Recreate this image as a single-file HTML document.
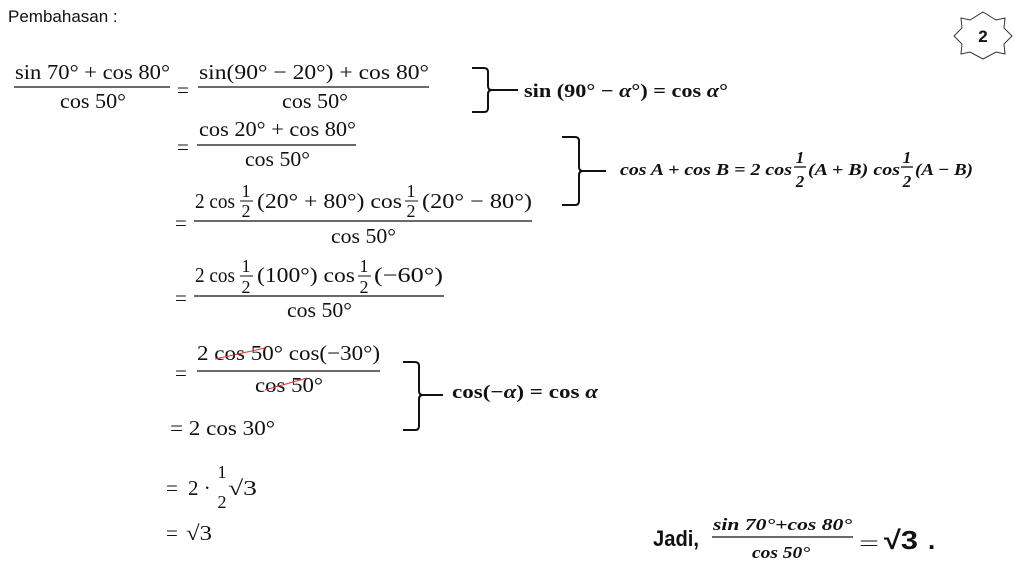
<!DOCTYPE html>
<html><head><meta charset="utf-8"><style>
html,body{margin:0;padding:0;background:#fff;}
svg{display:block;}
.m{font-family:"Liberation Serif",serif;font-size:21px;fill:#111;}
.b{font-family:"Liberation Serif",serif;font-size:19px;font-weight:bold;fill:#111;}
.bi{font-family:"Liberation Serif",serif;font-size:17px;font-weight:bold;font-style:italic;fill:#111;}
.s{font-family:"Liberation Sans",sans-serif;fill:#111;}
.f{font-family:"Liberation Serif",serif;font-size:18px;fill:#111;}
</style></head><body>
<svg width="1023" height="572" viewBox="0 0 1023 572" xmlns="http://www.w3.org/2000/svg">
<text x="8" y="22" class="s" font-size="17">Pembahasan :</text>
<polygon points="983,12 996,20 1005,18 1004,28 1012,36 1004,44 1005,54 996,52 983,59 970,52 961,54 962,44 954,36 962,28 961,18 970,20" fill="none" stroke="#333" stroke-width="1"/>
<text x="983" y="42" class="s" font-size="17" font-weight="bold" text-anchor="middle">2</text>
<g stroke="#111" stroke-width="1.3">
<line x1="14" y1="87" x2="170" y2="87"/><line x1="198" y1="87" x2="429" y2="87"/>
<line x1="197" y1="145" x2="356" y2="145"/>
<line x1="194" y1="221" x2="532" y2="221"/>
<line x1="194" y1="296" x2="444" y2="296"/>
<line x1="197" y1="371" x2="380" y2="371"/>
</g>
<text x="15" y="79" class="m" textLength="155" lengthAdjust="spacingAndGlyphs">sin 70° + cos 80°</text>
<text x="60" y="108" class="m" textLength="66" lengthAdjust="spacingAndGlyphs">cos 50°</text>
<text x="177" y="97" class="m">=</text>
<text x="199" y="79" class="m" textLength="230" lengthAdjust="spacingAndGlyphs">sin(90° − 20°) + cos 80°</text>
<text x="282" y="108" class="m" textLength="66" lengthAdjust="spacingAndGlyphs">cos 50°</text>
<text x="177" y="154" class="m">=</text>
<text x="199" y="136" class="m" textLength="157" lengthAdjust="spacingAndGlyphs">cos 20° + cos 80°</text>
<text x="245" y="166" class="m" textLength="65" lengthAdjust="spacingAndGlyphs">cos 50°</text>
<text x="175" y="230" class="m">=</text>
<text x="195" y="208" class="m" font-size="20" textLength="40" lengthAdjust="spacingAndGlyphs">2 cos</text>
<text x="246" y="197" class="f" text-anchor="middle">1</text><line x1="240" y1="201" x2="253" y2="201" stroke="#111"/><text x="246" y="217" class="f" text-anchor="middle">2</text>
<text x="257" y="208" class="m" textLength="145" lengthAdjust="spacingAndGlyphs">(20° + 80°) cos</text>
<text x="411" y="197" class="f" text-anchor="middle">1</text><line x1="405" y1="201" x2="418" y2="201" stroke="#111"/><text x="411" y="217" class="f" text-anchor="middle">2</text>
<text x="422" y="208" class="m" textLength="110" lengthAdjust="spacingAndGlyphs">(20° − 80°)</text>
<text x="331" y="243" class="m" textLength="65" lengthAdjust="spacingAndGlyphs">cos 50°</text>
<text x="175" y="305" class="m">=</text>
<text x="195" y="282" class="m" font-size="20" textLength="40" lengthAdjust="spacingAndGlyphs">2 cos</text>
<text x="246" y="272" class="f" text-anchor="middle">1</text><line x1="240" y1="276" x2="253" y2="276" stroke="#111"/><text x="246" y="293" class="f" text-anchor="middle">2</text>
<text x="257" y="282" class="m" textLength="98" lengthAdjust="spacingAndGlyphs">(100°) cos</text>
<text x="364" y="272" class="f" text-anchor="middle">1</text><line x1="358" y1="276" x2="371" y2="276" stroke="#111"/><text x="364" y="293" class="f" text-anchor="middle">2</text>
<text x="374" y="282" class="m" textLength="69" lengthAdjust="spacingAndGlyphs">(−60°)</text>
<text x="287" y="317" class="m" textLength="65" lengthAdjust="spacingAndGlyphs">cos 50°</text>
<text x="175" y="380" class="m">=</text>
<text x="197" y="360" class="m" textLength="183" lengthAdjust="spacingAndGlyphs">2 cos 50° cos(−30°)</text>
<text x="255" y="392" class="m" textLength="68" lengthAdjust="spacingAndGlyphs">cos 50°</text>
<line x1="215" y1="359" x2="265" y2="348" stroke="#d33" stroke-width="1"/>
<line x1="265" y1="390" x2="307" y2="378" stroke="#d33" stroke-width="1"/>
<text x="170" y="435" class="m" textLength="105" lengthAdjust="spacingAndGlyphs">= 2 cos 30°</text>
<text x="166" y="495" class="m">=</text>
<text x="188" y="495" class="m">2 ·</text>
<text x="222" y="478" class="f" text-anchor="middle">1</text><text x="222" y="508" class="f" text-anchor="middle">2</text>
<text x="228" y="495" class="m" textLength="29" lengthAdjust="spacingAndGlyphs">√3</text>
<text x="166" y="540" class="m">=</text>
<text x="186" y="540" class="m" textLength="26" lengthAdjust="spacingAndGlyphs">√3</text>
<g fill="none" stroke="#111" stroke-width="2">
<path d="M472,68 H484 Q488,68 488,72 V86 Q488,90 492,90 H518 M492,90 Q488,90 488,94 V108 Q488,112 484,112 H472"/>
<path d="M562,137 H575 Q579,137 579,141 V167 Q579,171 583,171 H606 M583,171 Q579,171 579,175 V201 Q579,205 575,205 H562"/>
<path d="M403,362 H415 Q419,362 419,366 V391 Q419,395 423,395 H443 M423,395 Q419,395 419,399 V426 Q419,430 415,430 H403"/>
</g>
<text x="524" y="97" class="b" textLength="204" lengthAdjust="spacingAndGlyphs">sin (90° − <tspan font-style="italic">α</tspan>°) = cos <tspan font-style="italic">α</tspan>°</text>
<text x="452" y="398" class="b" font-size="21" textLength="146" lengthAdjust="spacingAndGlyphs">cos(−<tspan font-style="italic">α</tspan>) = cos <tspan font-style="italic">α</tspan></text>
<text x="620" y="175" class="bi" textLength="172" lengthAdjust="spacingAndGlyphs">cos A + cos B = 2 cos</text>
<text x="800" y="163" class="bi" font-size="16" text-anchor="middle" font-style="normal">1</text><line x1="794" y1="167" x2="806" y2="167" stroke="#111" stroke-width="1.3"/><text x="800" y="187" class="bi" font-size="16" text-anchor="middle" font-style="normal">2</text>
<text x="808" y="175" class="bi" textLength="92" lengthAdjust="spacingAndGlyphs">(A + B) cos</text>
<text x="907" y="163" class="bi" font-size="16" text-anchor="middle" font-style="normal">1</text><line x1="901" y1="167" x2="913" y2="167" stroke="#111" stroke-width="1.3"/><text x="907" y="187" class="bi" font-size="16" text-anchor="middle" font-style="normal">2</text>
<text x="915" y="175" class="bi" textLength="58" lengthAdjust="spacingAndGlyphs">(A − B)</text>
<text x="653" y="546" class="s" font-size="22" font-weight="bold" textLength="46" lengthAdjust="spacingAndGlyphs">Jadi,</text>
<text x="713" y="530" class="bi" textLength="139" lengthAdjust="spacingAndGlyphs">sin 70°+cos 80°</text>
<line x1="712" y1="537" x2="853" y2="537" stroke="#111" stroke-width="1.3"/>
<text x="752" y="558" class="bi" textLength="58" lengthAdjust="spacingAndGlyphs">cos 50°</text>
<text x="859" y="550" class="m" font-size="28" textLength="20" lengthAdjust="spacingAndGlyphs">=</text>
<text x="884" y="549" class="s" font-size="26" font-weight="bold" textLength="34" lengthAdjust="spacingAndGlyphs">√3</text>
<text x="928" y="549" class="s" font-size="26" font-weight="bold">.</text>
</svg>
</body></html>
